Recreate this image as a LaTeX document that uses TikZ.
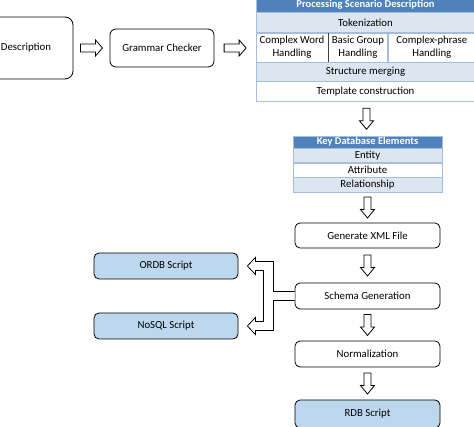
\documentclass[tikz,border=0pt]{standalone}
\usepackage{fontspec}
\setmainfont{Carlito}
\usepackage{tikz}
\usetikzlibrary{positioning,calc}
\definecolor{hdrblue}{RGB}{79,129,189}
\definecolor{rowblue}{RGB}{220,230,241}
\definecolor{gridblue}{RGB}{165,190,220}
\definecolor{outblue}{RGB}{189,215,238}

\begin{document}
\begin{tikzpicture}[x=1pt,y=-1pt,
    font=\fontsize{10.8}{12.5}\selectfont,
    procbox/.style={draw,line width=0.8pt,rounded corners=5pt,minimum width=145pt,minimum height=26pt,inner sep=0pt},
    outbox/.style={procbox,fill=outblue},
    hdr/.style={draw=gridblue,fill=hdrblue,text=white,font=\fontsize{10.5}{11}\selectfont\bfseries,inner sep=0pt},
    cell/.style={draw=gridblue,inner sep=0pt,align=center},
    hollow/.style={draw,fill=white,line width=0.8pt},
    rightarr/.pic={\draw[hollow] (-11,-4) -- (4,-4) -- (4,-8) -- (11,0) -- (4,8) -- (4,4) -- (-11,4) -- cycle;},
    downarr/.pic={\draw[hollow] (-3.5,-10.5) -- (-3.5,2) -- (-7,2) -- (0,10.5) -- (7,2) -- (3.5,2) -- (3.5,-10.5) -- cycle;}]
  \useasboundingbox (0,0) rectangle (474,427);

  % input side
  \node[procbox,rounded corners=8pt,minimum width=94pt,minimum height=62pt] (desc) at (26,48) {Description};
  \node[procbox,rounded corners=6pt,minimum width=104pt,minimum height=38pt] (gram) at (162,48) {Grammar Checker};

  % processing table
  \node[hdr,minimum width=219pt,minimum height=14pt] (psd) at (365.5,5) {Processing Scenario Description};
  \node[cell,fill=rowblue,minimum width=219pt,minimum height=20pt,anchor=north] (tok) at (psd.south) {Tokenization};
  \node[cell,minimum width=72pt,minimum height=29pt,anchor=north west] (cw) at (tok.south west) {Complex Word\\Handling};
  \node[cell,minimum width=59pt,minimum height=29pt,anchor=north west] (bg) at (cw.north east) {Basic Group\\Handling};
  \node[cell,minimum width=88pt,minimum height=29pt,anchor=north west] (cp) at (bg.north east) {Complex-phrase\\Handling};
  \node[cell,fill=rowblue,minimum width=219pt,minimum height=19pt,anchor=north west] (sm) at (cw.south west) {Structure merging};
  \node[cell,minimum width=219pt,minimum height=20pt,anchor=north] (tc) at (sm.south) {Template construction};
  \draw[black!75,line width=0.8pt] (cw.north east) -- (cw.south east);

  % key elements table
  \node[hdr,minimum width=149pt,minimum height=12pt] (kde) at (367.5,142) {Key Database Elements};
  \node[cell,fill=rowblue,minimum width=149pt,minimum height=14pt,anchor=north] (ent) at (kde.south) {Entity};
  \node[cell,minimum width=149pt,minimum height=14pt,anchor=north] (att) at (ent.south) {Attribute};
  \node[cell,fill=rowblue,minimum width=149pt,minimum height=15pt,anchor=north] (rel) at (att.south) {Relationship};

  % generation steps
  \node[procbox,minimum height=25pt] (xml) at (367.5,235.5) {Generate XML File};
  \node[procbox] (schema) at (367.5,296) {Schema Generation};
  \node[procbox] (norm) at (367.5,354) {Normalization};
  \node[outbox,minimum height=28pt] (rdb) at (367.5,414) {RDB Script};
  \node[outbox,minimum width=144pt] (ordb) at (166,266) {ORDB Script};
  \node[outbox,minimum width=144pt] (nosql) at (166,326) {NoSQL Script};

  % arrows
  \pic at ($(desc.east)!0.5!(gram.west)$) {rightarr};
  \pic at ($(gram.east)!0.5!(psd.west |- gram.east)$) {rightarr};
  \pic at ($(tc.south)!0.5!(kde.north)$) {downarr};
  \pic at ($(rel.south)!0.5!(xml.north)$) {downarr};
  \pic at ($(xml.south)!0.5!(schema.north)$) {downarr};
  \pic at ($(schema.south)!0.5!(norm.north)$) {downarr};
  \pic at ($(norm.south)!0.5!(rdb.north)$) {downarr};

  % split arrow to the other scripts
  \draw[hollow] ($(schema.west)+(0,-4.5)$)
    -- ($(ordb.east |- schema.west)+(35,-4.5)$)
    -- ($(ordb.east)+(35,-4.5)$) -- ($(ordb.east)+(17,-4.5)$)
    -- ($(ordb.east)+(17,-8.5)$) -- ($(ordb.east)+(9,0)$)
    -- ($(ordb.east)+(17,8.5)$) -- ($(ordb.east)+(17,4.5)$)
    -- ($(ordb.east)+(25,4.5)$) -- ($(nosql.east)+(25,-4.5)$)
    -- ($(nosql.east)+(17,-4.5)$) -- ($(nosql.east)+(17,-8.5)$)
    -- ($(nosql.east)+(9,0)$) -- ($(nosql.east)+(17,8.5)$)
    -- ($(nosql.east)+(17,4.5)$) -- ($(nosql.east)+(35,4.5)$)
    -- ($(ordb.east |- schema.west)+(35,4.5)$)
    -- ($(schema.west)+(0,4.5)$);
\end{tikzpicture}
\end{document}
